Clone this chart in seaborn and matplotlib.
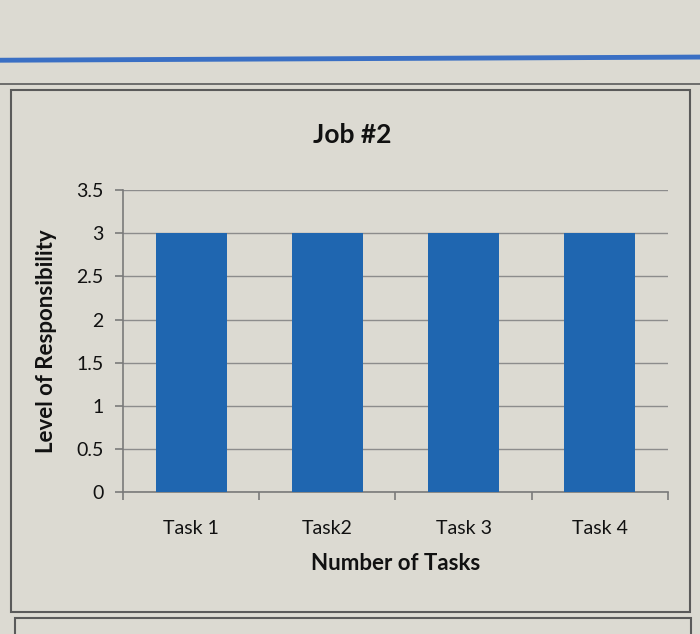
import matplotlib
matplotlib.use("Agg")
import matplotlib.pyplot as plt
import seaborn as sns
import pandas as pd
import numpy as np
from matplotlib.lines import Line2D
from matplotlib.patches import Rectangle

tasks = ["Task 1", "Task2", "Task 3", "Task 4"]
responsibility = [3, 3, 3, 3]
y_ticks = [0, 0.5, 1, 1.5, 2, 2.5, 3, 3.5]
y_tick_labels = ["0", "0.5", "1", "1.5", "2", "2.5", "3", "3.5"]

sns.set_style("white")
plt.rcParams["font.family"] = ["Lato", "DejaVu Sans"]
plt.rcParams["text.color"] = "#111111"
plt.rcParams["axes.labelcolor"] = "#111111"
plt.rcParams["xtick.color"] = "#111111"
plt.rcParams["ytick.color"] = "#111111"

bg = "#dcdad2"
bar_color = "#1f66b0"

df = pd.DataFrame({"task": tasks, "level": responsibility})

fig = plt.figure(figsize=(7, 6.34), dpi=100, facecolor=bg)
ax = fig.add_axes([0.176, 0.224, 0.778, 0.476])
ax.set_facecolor(bg)

sns.barplot(data=df, x="task", y="level", color=bar_color, width=0.52,
            saturation=1, ax=ax, zorder=3, edgecolor="none", linewidth=0)

ax.set_ylim(0, 3.5)
ax.set_xlim(-0.5, 3.5)
ax.set_yticks(y_ticks)
ax.set_yticklabels(y_tick_labels, fontsize=14)
ax.yaxis.grid(True, color="#8c8c8c", linewidth=1.0, zorder=0)
ax.set_axisbelow(True)

# category boundary ticks, Excel style
ax.set_xticks(np.arange(len(tasks)))
ax.set_xticklabels(tasks, fontsize=14)
ax.set_xticks(np.arange(-0.5, len(tasks)), minor=True)
ax.tick_params(axis="x", which="major", bottom=False, length=0, pad=20)
ax.tick_params(axis="x", which="minor", bottom=True, length=6,
               color="#7a7a7a", width=1.2)
ax.tick_params(axis="y", left=True, length=6, color="#7a7a7a", width=1.2,
               pad=8, labelcolor="#111111")
ax.tick_params(axis="x", labelcolor="#111111")

for side in ["top", "right"]:
    ax.spines[side].set_visible(False)
for side in ["left", "bottom"]:
    ax.spines[side].set_color("#7a7a7a")
    ax.spines[side].set_linewidth(1.2)

ax.set_xlabel("Number of Tasks", fontsize=16, fontweight="bold", labelpad=12)
ax.set_ylabel("Level of Responsibility", fontsize=16, fontweight="bold", labelpad=14)
fig.text(0.503, 0.787, "Job #2", ha="center", va="center", fontsize=19,
         fontweight="bold")

# screen decorations around the chart
fig.add_artist(Line2D([0, 1], [0.905, 0.91], color="#3a6fc4", linewidth=3.5))
fig.add_artist(Line2D([0, 1], [0.868, 0.868], color="#5a5a5a", linewidth=1.2))
fig.add_artist(Rectangle((0.015, 0.035), 0.97, 0.823, fill=False,
                         edgecolor="#5a5a5a", linewidth=1.5))
fig.add_artist(Rectangle((0.022, -0.05), 0.965, 0.075, fill=False,
                         edgecolor="#5a5a5a", linewidth=1.5))

fig.savefig("out.png", dpi=100, facecolor=bg)
